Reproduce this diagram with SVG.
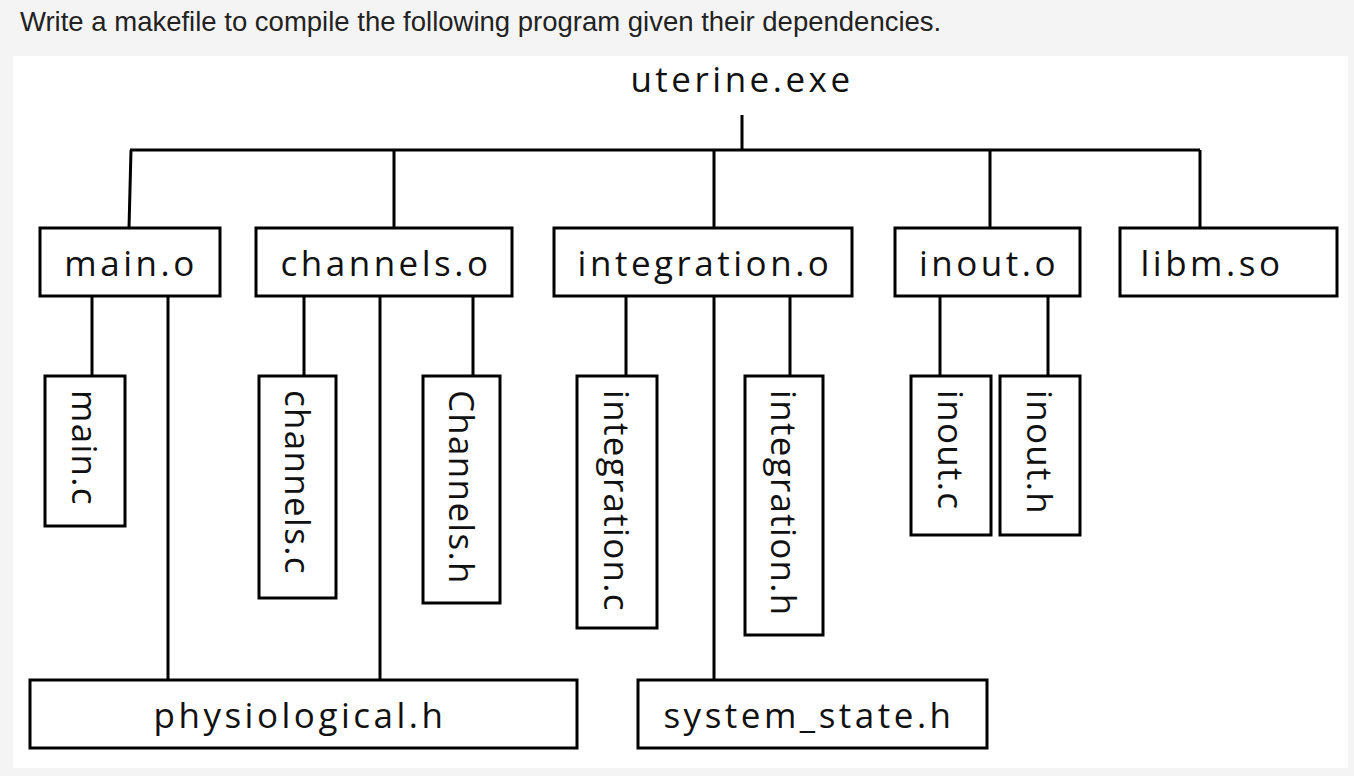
<svg xmlns="http://www.w3.org/2000/svg" width="1354" height="776" viewBox="0 0 1354 776">
<style>
.b{fill:#fff;stroke:#000;stroke-width:3}
.l{stroke:#000;stroke-width:3;fill:none}
.t{font-family:"Open Sans","Liberation Sans",sans-serif;font-size:35px;letter-spacing:3.5px;fill:#111}
.v{font-family:"Open Sans","Liberation Sans",sans-serif;font-size:35px;letter-spacing:1.3px;fill:#111}
</style>
<rect width="1354" height="776" fill="#f4f4f4"/>
<rect x="13" y="56" width="1335" height="712" fill="#fff"/>
<text x="20" y="31" font-family="Liberation Sans,Arial,sans-serif" font-size="27.5" fill="#222">Write a makefile to compile the following program given their dependencies.</text>
<g id="connectors">
<path class="l" d="M742 115V150M130 150H1200M131 150L129 228M394 150V228M714 150V228M990 150V228M1200 150V228"/>
<path class="l" d="M92 296V376M168 296V680M304 296V376M380 296V680M473 296V376M626 296V376M714 296V680M790 296V376M940 296V376M1048 296V376"/>
</g>
<g id="uterine"><text class="t" x="742" y="92" text-anchor="middle">uterine.exe</text></g>
<g id="main_o"><rect class="b" x="40" y="228" width="180" height="68"/><text class="t" x="131" y="276" text-anchor="middle">main.o</text></g>
<g id="channels_o"><rect class="b" x="256" y="228" width="256" height="68"/><text class="t" x="386" y="276" text-anchor="middle">channels.o</text></g>
<g id="integration_o"><rect class="b" x="554" y="228" width="298" height="68"/><text class="t" x="705" y="276" text-anchor="middle">integration.o</text></g>
<g id="inout_o"><rect class="b" x="895" y="228" width="185" height="68"/><text class="t" x="989" y="276" text-anchor="middle">inout.o</text></g>
<g id="libm"><rect class="b" x="1120" y="228" width="217" height="68"/><text class="t" x="1212" y="276" text-anchor="middle">libm.so</text></g>
<g id="main_c"><rect class="b" x="45" y="376" width="80" height="150"/><text class="v" transform="translate(72,390) rotate(90)">main.c</text></g>
<g id="channels_c"><rect class="b" x="259" y="376" width="77" height="222"/><text class="v" transform="translate(285,390) rotate(90)">channels.c</text></g>
<g id="channels_h"><rect class="b" x="423" y="376" width="77" height="227"/><text class="v" transform="translate(449,390) rotate(90)">Channels.h</text></g>
<g id="integration_c"><rect class="b" x="577" y="376" width="80" height="252"/><text class="v" transform="translate(604,390) rotate(90)">integration.c</text></g>
<g id="integration_h"><rect class="b" x="745" y="376" width="78" height="259"/><text class="v" transform="translate(771,390) rotate(90)">integration.h</text></g>
<g id="inout_c"><rect class="b" x="911" y="376" width="80" height="159"/><text class="v" transform="translate(938,390) rotate(90)">inout.c</text></g>
<g id="inout_h"><rect class="b" x="1000" y="376" width="80" height="159"/><text class="v" transform="translate(1027,390) rotate(90)">inout.h</text></g>
<g id="physiological"><rect class="b" x="30" y="680" width="547" height="68"/><text class="t" x="300" y="728" text-anchor="middle">physiological.h</text></g>
<g id="system_state"><rect class="b" x="638" y="680" width="349" height="68"/><text class="t" x="809" y="728" text-anchor="middle">system_state.h</text></g>
</svg>
